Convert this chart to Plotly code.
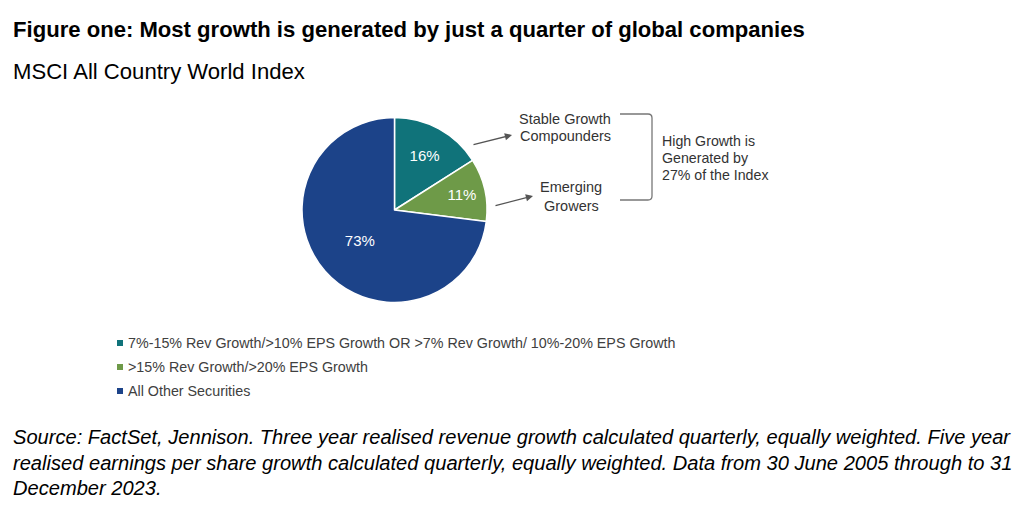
import plotly.graph_objects as go

categories = [
    "7%-15% Rev Growth/>10% EPS Growth OR >7% Rev Growth/ 10%-20% EPS Growth",
    ">15% Rev Growth/>20% EPS Growth",
    "All Other Securities",
]
values = [16, 11, 73]
colors = ["#10737A", "#6E9A48", "#1C4389"]

title = "Figure one: Most growth is generated by just a quarter of global companies"
subtitle = "MSCI All Country World Index"
source_lines = [
    "Source: FactSet, Jennison. Three year realised revenue growth calculated quarterly, equally weighted. Five year",
    "realised earnings per share growth calculated quarterly, equally weighted. Data from 30 June 2005 through to 31",
    "December 2023.",
]
callout_top = ["Stable Growth", "Compounders"]
callout_bottom = ["Emerging", "Growers"]
bracket_note = ["High Growth is", "Generated by", "27% of the Index"]

W, H = 1024, 510
def px(x):
    return x / W
def py(y):
    return 1 - y / H

FONT = "Liberation Sans, Arial, sans-serif"

fig = go.Figure()
fig.add_trace(go.Pie(
    labels=categories,
    values=values,
    sort=False,
    direction="clockwise",
    rotation=0,
    marker=dict(colors=colors, line=dict(color="white", width=1.5)),
    texttemplate="%{value}%",
    textposition="inside",
    insidetextorientation="horizontal",
    textfont=dict(color="white", size=15, family=FONT),
    domain=dict(x=[px(302), px(487)], y=[py(303), py(117)]),
    hoverinfo="label+value",
    showlegend=False,
))

annotations = []
def txt(text, x, y, size, color="#333333", anchor="left"):
    annotations.append(dict(text=text, x=px(x), y=py(y), xref="paper", yref="paper",
                            xanchor=anchor, yanchor="middle", showarrow=False,
                            font=dict(size=size, color=color, family=FONT)))

txt(f"<b>{title}</b>", 11, 29, 22.1, "black")
txt(subtitle, 11, 72, 22.1, "black")
for i, line in enumerate(source_lines):
    txt(f"<i>{line}</i>", 11, 437 + i * 25.5, 20.1, "black")

for i, line in enumerate(callout_top):
    txt(line, 565, 119 + i * 17, 14.5, anchor="center")
for i, line in enumerate(callout_bottom):
    txt(line, 571, 187 + i * 19, 14.5, anchor="center")
for i, line in enumerate(bracket_note):
    txt(line, 660, 141 + i * 17, 14.2)

# custom legend
shapes = []
for i, (cat, col) in enumerate(zip(categories, colors)):
    yy = 343 + i * 24
    shapes.append(dict(type="rect", xref="paper", yref="paper",
                       x0=px(117), x1=px(123), y0=py(yy + 3), y1=py(yy - 3),
                       fillcolor=col, line=dict(width=0)))
    txt(cat, 126, yy, 14.3, "#404040")

# arrows
arrows = [((472, 145), (512, 135)), ((494, 206), (533, 196))]
for (x0, y0), (x1, y1) in arrows:
    annotations.append(dict(
        x=px(x1), y=py(y1), ax=x0 - x1, ay=y0 - y1,
        xref="paper", yref="paper", axref="pixel", ayref="pixel",
        showarrow=True, arrowhead=2, arrowsize=1.1, arrowwidth=1.3,
        arrowcolor="#555555", text="",
    ))

shapes.append(
    dict(type="path",
         path=f"M {px(620)},{py(114)} L {px(648)},{py(114)} Q {px(652)},{py(114)} {px(652)},{py(118)} "
              f"L {px(652)},{py(196)} Q {px(652)},{py(200)} {px(648)},{py(200)} L {px(620)},{py(200)}",
         xref="paper", yref="paper", line=dict(color="#777777", width=1.3))
)

fig.update_layout(
    width=W, height=H,
    margin=dict(l=0, r=0, t=0, b=0),
    paper_bgcolor="white", plot_bgcolor="white",
    annotations=annotations,
    shapes=shapes,
    showlegend=False,
    font=dict(family=FONT),
)

fig.write_html("out.html")
